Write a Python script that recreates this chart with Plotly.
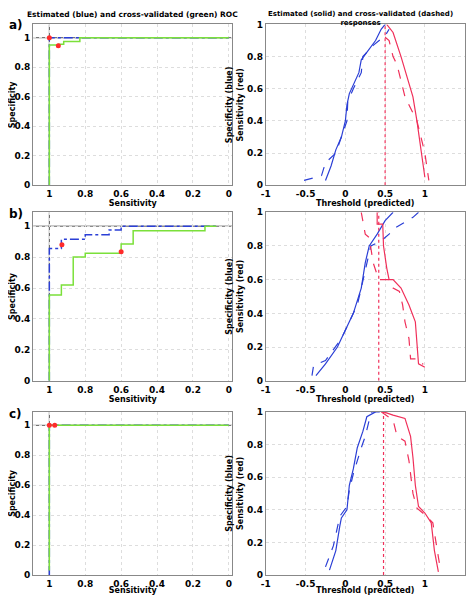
import plotly.graph_objects as go

# ROC data (sensitivity x, specificity y)
roc_a_blue_x = [1, 1, 0]; roc_a_blue_y = [0, 1, 1]
roc_a_green_x = [1, 1, 0.95, 0.95, 0.92, 0.92, 0.83, 0.83, 0]
roc_a_green_y = [0, 0.95, 0.95, 0.955, 0.955, 0.975, 0.975, 1, 1]
roc_a_dots_x = [1, 0.95]; roc_a_dots_y = [1, 0.945]

roc_b_blue_x = [1, 1, 0.933, 0.933, 0.8, 0.8, 0.667, 0.667, 0.6, 0.6, 0.07]
roc_b_blue_y = [0, 0.855, 0.855, 0.915, 0.915, 0.945, 0.945, 0.975, 0.975, 1, 1]
roc_b_green_x = [1, 1, 0.933, 0.933, 0.867, 0.867, 0.8, 0.8, 0.6, 0.6, 0.533, 0.533, 0.133, 0.133, 0.07]
roc_b_green_y = [0, 0.555, 0.555, 0.62, 0.62, 0.8, 0.8, 0.825, 0.825, 0.885, 0.885, 0.97, 0.97, 1, 1]
roc_b_dots_x = [0.93, 0.6]; roc_b_dots_y = [0.88, 0.835]

roc_c_blue_x = [1, 1, 0]; roc_c_blue_y = [0, 1, 1]
roc_c_green_x = [1, 1, 0]; roc_c_green_y = [0.03, 1, 1]
roc_c_dots_x = [1, 0.97]; roc_c_dots_y = [1, 1]

# Response curves (threshold x, value y)
ra_bs_x = [-0.25, -0.18, -0.12, -0.05, 0, 0.02, 0.05, 0.1, 0.17, 0.2, 0.3, 0.38, 0.45, 0.5]
ra_bs_y = [0.03, 0.12, 0.22, 0.3, 0.4, 0.5, 0.57, 0.62, 0.7, 0.78, 0.85, 0.9, 0.97, 1]
ra_bd_x = [-0.52, -0.3, -0.25, -0.12, -0.05, 0.02, 0.03, 0.1, 0.2, 0.22, 0.35, 0.5, 0.55]
ra_bd_y = [0.03, 0.06, 0.14, 0.2, 0.3, 0.4, 0.52, 0.6, 0.7, 0.8, 0.87, 0.93, 0.97]
ra_rs_x = [0.52, 0.6, 0.7, 0.85, 0.9, 1.0]
ra_rs_y = [1, 0.95, 0.8, 0.55, 0.4, 0.05]
ra_rd_x = [0.5, 0.55, 0.6, 0.65, 0.75, 0.9, 1.0, 1.05]
ra_rd_y = [0.92, 0.9, 0.8, 0.75, 0.55, 0.4, 0.2, 0.03]
ra_thr = 0.5

rb_bs_x = [-0.37, -0.25, -0.1, 0, 0.1, 0.2, 0.25, 0.3, 0.4, 0.5, 0.6]
rb_bs_y = [0.03, 0.1, 0.2, 0.3, 0.4, 0.55, 0.7, 0.8, 0.87, 0.95, 1]
rb_bd_x = [-0.42, -0.4, -0.25, -0.05, 0.05, 0.15, 0.2, 0.27, 0.32, 0.45, 0.55, 0.6, 0.85, 0.92]
rb_bd_y = [0.03, 0.09, 0.12, 0.25, 0.35, 0.45, 0.55, 0.7, 0.8, 0.83, 0.87, 0.9, 0.97, 1]
rb_rs_x = [0.4, 0.4, 0.47, 0.48, 0.52, 0.55, 0.6, 0.7, 0.8, 0.88, 0.92, 1.0]
rb_rs_y = [1, 0.93, 0.93, 0.8, 0.67, 0.6, 0.6, 0.55, 0.45, 0.35, 0.1, 0.08]
rb_rd_x = [0.2, 0.25, 0.3, 0.35, 0.42, 0.55, 0.6, 0.68, 0.72, 0.75, 0.8, 0.82, 0.9, 0.95, 0.98]
rb_rd_y = [1, 0.87, 0.85, 0.7, 0.6, 0.6, 0.55, 0.53, 0.45, 0.35, 0.25, 0.13, 0.13, 0.1, 0.1]
rb_thr = 0.42

rc_bs_x = [-0.2, -0.12, -0.07, -0.05, 0.02, 0.05, 0.1, 0.15, 0.22, 0.27, 0.38]
rc_bs_y = [0.03, 0.15, 0.3, 0.35, 0.4, 0.55, 0.65, 0.78, 0.88, 0.97, 1]
rc_bd_x = [-0.25, -0.15, -0.07, 0.02, 0.05, 0.1, 0.2, 0.25, 0.3, 0.33, 0.45]
rc_bd_y = [0.05, 0.18, 0.36, 0.42, 0.52, 0.62, 0.78, 0.85, 0.95, 1, 1]
rc_rs_x = [0.48, 0.6, 0.75, 0.82, 0.85, 0.88, 0.92, 1.0, 1.08, 1.12, 1.17]
rc_rs_y = [1, 0.98, 0.96, 0.85, 0.72, 0.55, 0.42, 0.38, 0.32, 0.15, 0.02]
rc_rd_x = [0.45, 0.6, 0.65, 0.75, 0.8, 0.85, 0.9, 1.0, 1.1, 1.15, 1.2]
rc_rd_y = [1, 0.95, 0.85, 0.82, 0.7, 0.5, 0.41, 0.37, 0.32, 0.18, 0.02]
rc_thr = 0.48

BLUE = "#2b3fd6"; GREEN = "#7be03a"; RED = "#f0305a"; DOT = "#ff2a2a"
FONT = "DejaVu Sans"

fig = go.Figure()
rows = [
    dict(roc=(roc_a_blue_x, roc_a_blue_y, roc_a_green_x, roc_a_green_y, roc_a_dots_x, roc_a_dots_y),
         resp=(ra_bs_x, ra_bs_y, ra_bd_x, ra_bd_y, ra_rs_x, ra_rs_y, ra_rd_x, ra_rd_y, ra_thr),
         ydom=[0.698, 0.972], label="a)", ly=0.985),
    dict(roc=(roc_b_blue_x, roc_b_blue_y, roc_b_green_x, roc_b_green_y, roc_b_dots_x, roc_b_dots_y),
         resp=(rb_bs_x, rb_bs_y, rb_bd_x, rb_bd_y, rb_rs_x, rb_rs_y, rb_rd_x, rb_rd_y, rb_thr),
         ydom=[0.365, 0.652], label="b)", ly=0.662),
    dict(roc=(roc_c_blue_x, roc_c_blue_y, roc_c_green_x, roc_c_green_y, roc_c_dots_x, roc_c_dots_y),
         resp=(rc_bs_x, rc_bs_y, rc_bd_x, rc_bd_y, rc_rs_x, rc_rs_y, rc_rd_x, rc_rd_y, rc_thr),
         ydom=[0.034, 0.312], label="c)", ly=0.322),
]

tickfont = dict(family=FONT, size=9, color="black", weight="bold")
titlefont = dict(family=FONT, size=8, color="black", weight="bold")
layout = dict(width=458, height=587, margin=dict(l=0, r=0, t=0, b=0, autoexpand=False),
              paper_bgcolor="white", plot_bgcolor="white", showlegend=False,
              font=dict(family=FONT))
annotations = []
shapes = []

def ax_common():
    return dict(showline=True, linecolor="#888", linewidth=1, mirror=True,
                showgrid=True, gridcolor="#ddd", griddash="dot", zeroline=False,
                ticks="", tickfont=tickfont, automargin=False)

def nm(k):
    return "" if k == 1 else str(k)

for i, r in enumerate(rows):
    kl = 2*i+1; kr = 2*i+2
    lx = "x" + nm(kl); ly = "y" + nm(kl); rx = "x" + nm(kr); ry = "y" + nm(kr)
    bx, by, gx, gy, dx, dy = r["roc"]
    fig.add_trace(go.Scatter(x=bx, y=by, mode="lines", line=dict(color=BLUE, width=1.5, dash="dashdot"), xaxis=lx, yaxis=ly))
    fig.add_trace(go.Scatter(x=gx, y=gy, mode="lines", line=dict(color=GREEN, width=1.5), xaxis=lx, yaxis=ly))
    fig.add_trace(go.Scatter(x=dx, y=dy, mode="markers", marker=dict(color=DOT, size=5), xaxis=lx, yaxis=ly))
    bsx, bsy, bdx, bdy, rsx, rsy, rdx, rdy, thr = r["resp"]
    fig.add_trace(go.Scatter(x=bsx, y=bsy, mode="lines", line=dict(color=BLUE, width=1.2), xaxis=rx, yaxis=ry))
    fig.add_trace(go.Scatter(x=bdx, y=bdy, mode="lines", line=dict(color=BLUE, width=1.2, dash="dash"), xaxis=rx, yaxis=ry))
    fig.add_trace(go.Scatter(x=rsx, y=rsy, mode="lines", line=dict(color=RED, width=1.2), xaxis=rx, yaxis=ry))
    fig.add_trace(go.Scatter(x=rdx, y=rdy, mode="lines", line=dict(color=RED, width=1.2, dash="dash"), xaxis=rx, yaxis=ry))
    fig.add_trace(go.Scatter(x=[thr, thr], y=[0, 1], mode="lines", line=dict(color=RED, width=1.2, dash="dot"), xaxis=rx, yaxis=ry))

    layout["xaxis" + nm(kl)] = dict(ax_common(), domain=[0.055, 0.49], range=[1.09, -0.02], anchor=ly,
                                 tickvals=[1, 0.8, 0.6, 0.4, 0.2, 0], ticktext=["1", "0.8", "0.6", "0.4", "0.2", "0"],
                                 title=dict(text="Sensitivity", font=titlefont, standoff=0))
    layout["yaxis" + nm(kl)] = dict(ax_common(), domain=r["ydom"], range=[0, 1.09], anchor=lx,
                                 tickvals=[0, 0.2, 0.4, 0.6, 0.8, 1], ticktext=["0", "0.2", "0.4", "0.6", "0.8", "1"],
                                 title=dict(text="Specificity", font=titlefont, standoff=2))
    layout["xaxis" + nm(kr)] = dict(ax_common(), domain=[0.563, 0.997], range=[-1, 1.5], anchor=ry,
                                  tickvals=[-1, -0.5, 0, 0.5, 1, 1.5], ticktext=["-1", "-0.5", "0", "0.5", "1", "1.5"],
                                  title=dict(text="Threshold (predicted)", font=titlefont, standoff=0))
    layout["yaxis" + nm(kr)] = dict(ax_common(), domain=r["ydom"], range=[0, 1], anchor=rx,
                                  tickvals=[0, 0.2, 0.4, 0.6, 0.8, 1], ticktext=["0", "0.2", "0.4", "0.6", "0.8", "1"],
                                  title=dict(text="Specificity (blue)<br>Sensitivity (red)", font=titlefont, standoff=2))
    shapes.append(dict(type="line", xref=lx, yref=ly + " domain", x0=1, x1=1, y0=0, y1=1, line=dict(color="#555", width=1), layer="below"))
    shapes.append(dict(type="line", xref=lx + " domain", yref=ly, x0=0, x1=1, y0=1, y1=1, line=dict(color="#555", width=1), layer="below"))
    annotations.append(dict(text=r["label"], x=0.0, y=r["ly"], xref="paper", yref="paper",
                            xanchor="left", yanchor="top", showarrow=False, borderpad=0,
                            font=dict(family=FONT, size=12, color="black", weight="bold")))

annotations.append(dict(text="Estimated (blue) and cross-validated (green) ROC", x=0.272, y=1.0, xref="paper", yref="paper",
                        showarrow=False, font=dict(family=FONT, size=7.5, color="black", weight="bold"), xanchor="center", yanchor="top"))
annotations.append(dict(text="Estimated (solid) and cross-validated (dashed)<br>responses", x=0.77, y=1.0, xref="paper", yref="paper",
                        showarrow=False, font=dict(family=FONT, size=7, color="black", weight="bold"), xanchor="center", yanchor="top"))
layout["annotations"] = annotations
layout["shapes"] = shapes
fig.update_layout(**layout)
fig.write_html("out.html")
